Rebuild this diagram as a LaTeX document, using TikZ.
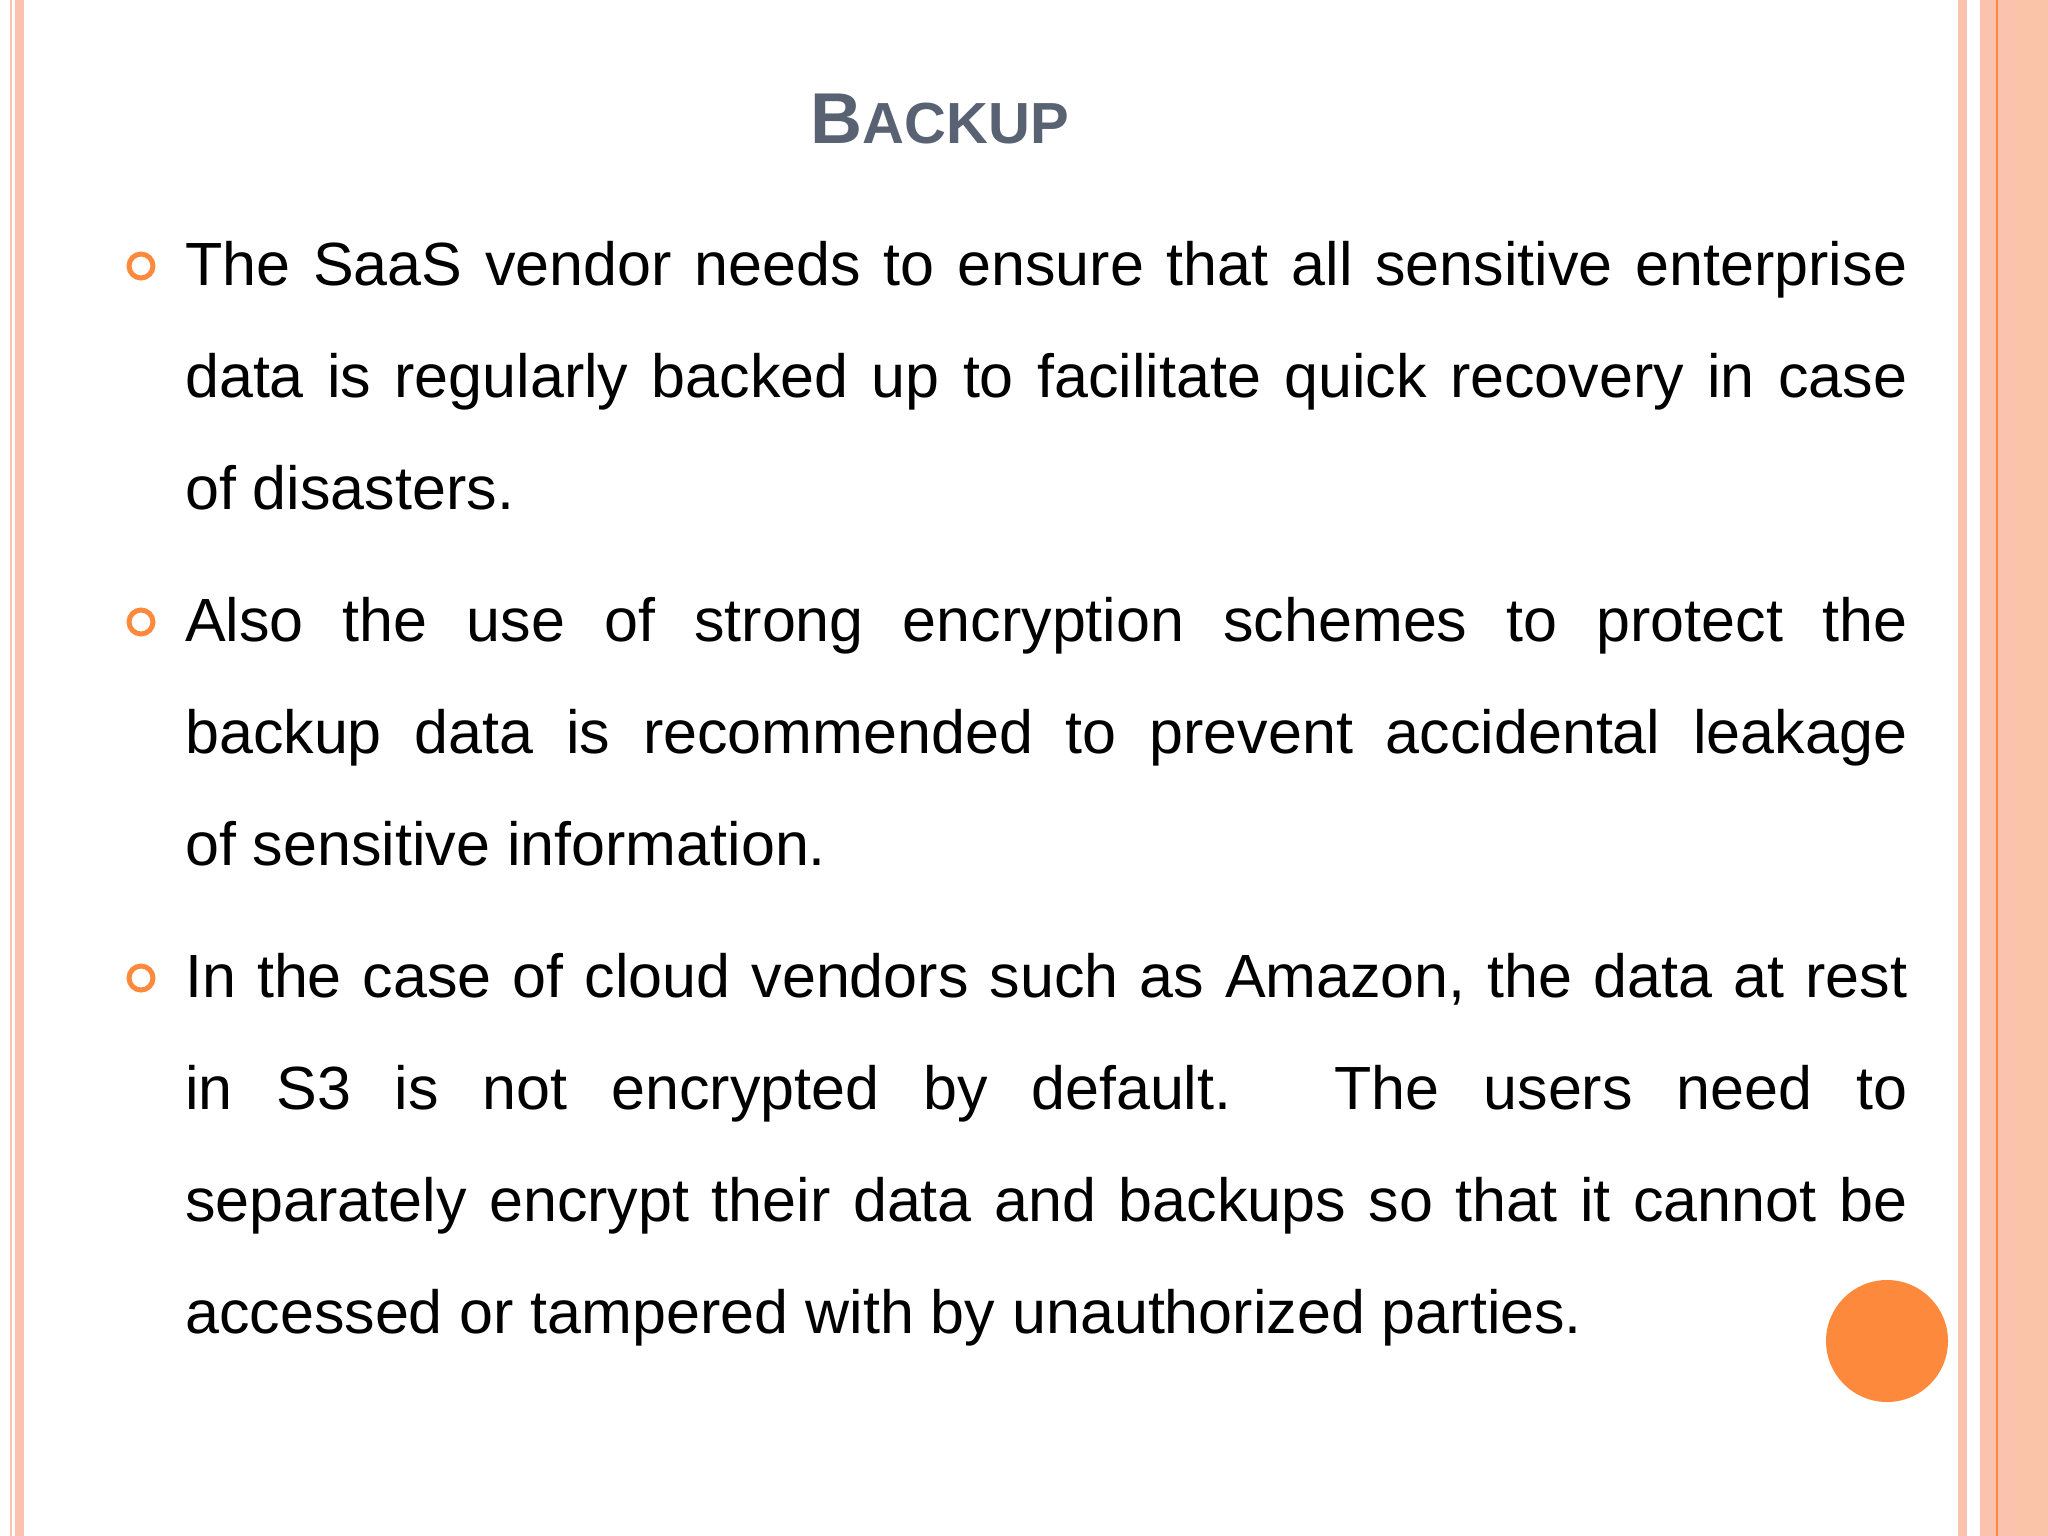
\documentclass[tikz,border=0pt]{standalone}
\usepackage{fontspec}
\setmainfont{Liberation Sans}
\definecolor{pk}{HTML}{FBC3AE}
\definecolor{pk2}{HTML}{F9C8B1}
\definecolor{orng}{HTML}{FD8A3C}
\definecolor{ttl}{HTML}{596273}
\begin{document}
\begin{tikzpicture}[x=1pt,y=-1pt,
  para/.style={anchor=base west,inner sep=0pt,font=\fontsize{61}{112}\selectfont},
  bul/.style={circle,draw=orng,line width=5pt,minimum size=24pt,inner sep=0pt}]
\fill[white] (0,0) rectangle (2048,1536);
\useasboundingbox (0,0) rectangle (2048,1536);
\fill[pk] (10,0) rectangle (12,1536);
\fill[pk] (15,0) rectangle (24,1536);
\fill[pk] (1958,0) rectangle (1967,1536);
\fill[pk] (1980,0) rectangle (2048,1536);
\fill[pk2!95!orange] (2016,0) rectangle (2048,1536);
\fill[orng] (1995.5,0) rectangle (1997.5,1536);
\node[anchor=base,inner sep=0pt,text=ttl,font=\bfseries\fontsize{72}{80}\selectfont] (title) at (940,144) {B\fontsize{58}{60}\selectfont ACKUP};
\node[bul] (b1) at (141,266) {};
\node[bul] (b2) at (141,622) {};
\node[bul] (b3) at (141,978) {};
\node[para] (p1) at (185,285) {\parbox[t]{1722pt}{\fontsize{61}{112}\selectfont
The SaaS vendor needs to ensure that all sensitive enterprise\linebreak
data is regularly backed up to facilitate quick recovery in case\linebreak
of disasters.}};
\node[para] (p2) at (185,641) {\parbox[t]{1722pt}{\fontsize{61}{112}\selectfont
Also the use of strong encryption schemes to protect the\linebreak
backup data is recommended to prevent accidental leakage\linebreak
of sensitive information.}};
\node[para] (p3) at (185,997) {\parbox[t]{1722pt}{\fontsize{61}{112}\selectfont
In the case of cloud vendors such as Amazon, the data at rest\linebreak
in S3 is not encrypted by default. The users need to\linebreak
separately encrypt their data and backups so that it cannot be\linebreak
accessed or tampered with by unauthorized parties.}};
\fill[orng] (1887,1341) circle (61);
\end{tikzpicture}
\end{document}
